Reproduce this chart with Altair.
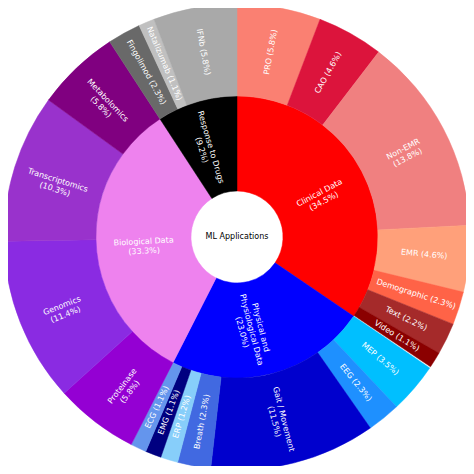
import altair as alt
import pandas as pd

# ---- data ----
inner_names = ["Clinical Data", "Physical and\nPhysiological Data", "Biological Data", "Response to Drugs"]
inner_values = [34.5, 23.0, 33.3, 9.2]
inner_colors = ["#FF0000", "#0000FF", "#EE82EE", "#000000"]

outer_groups = [0, 0, 0, 0, 0, 0, 0,
                1, 1, 1, 1, 1, 1, 1,
                2, 2, 2, 2,
                3, 3, 3]
outer_names = ["PRO", "CAO", "Non-EMR", "EMR", "Demographic", "Text", "Video",
               "MEP", "EEG", "Gait / Movement", "Breath", "ERP", "EMG", "ECG",
               "Proteinase", "Genomics", "Transcriptomics", "Metabolomics",
               "Fingolimod", "Natalizumab", "IFNb"]
outer_values = [5.8, 4.6, 13.8, 4.6, 2.3, 2.2, 1.1,
                3.5, 2.3, 11.5, 2.3, 1.2, 1.1, 1.1,
                5.8, 11.4, 10.3, 5.8,
                2.3, 1.1, 5.8]
outer_wrap = [False, False, True, False, False, False, False,
              False, False, True, False, False, False, False,
              True, True, True, True,
              False, False, False]
outer_colors = ["#FA8072", "#DC143C", "#F08080", "#FFA07A", "#FF6347", "#A52A2A", "#8B0000",
                "#00BFFF", "#1E90FF", "#0000CD", "#4169E1", "#87CEFA", "#000080", "#6495ED",
                "#9400D3", "#8A2BE2", "#9932CC", "#800080",
                "#696969", "#C0C0C0", "#A9A9A9"]
center_text = "ML Applications"


def rot(mid_pct):
    t = mid_pct * 3.6
    a = t - 90 if t <= 180 else t - 270
    return a % 360


# inner table
rows = []
acc = 0.0
group_start = []
for n, v, c in zip(inner_names, inner_values, inner_colors):
    group_start.append(acc)
    mid = acc + v / 2
    rows.append(dict(start=acc, end=acc + v, mid=mid, color=c,
                     label=f"{n}\n({v:.1f}%)", rot=rot(mid)))
    acc += v
inner = pd.DataFrame(rows)

# outer table
rows = []
cursor = {}
for g, n, v, w, c in zip(outer_groups, outer_names, outer_values, outer_wrap, outer_colors):
    s = cursor.get(g, group_start[g])
    mid = s + v / 2
    sep = "\n" if w else " "
    rows.append(dict(start=s, end=s + v, mid=mid, color=c,
                     label=f"{n}{sep}({v:.1f}%)", rot=rot(mid)))
    cursor[g] = s + v
outer = pd.DataFrame(rows)

theta_scale = alt.Scale(domain=[0, 100], range=[0, 6.283185307179586])

R0, R1, R2 = 46, 141, 233


def arcs(df, r_in, r_out):
    return alt.Chart(df).mark_arc(innerRadius=r_in, outerRadius=r_out, strokeWidth=0.5).encode(
        theta=alt.Theta("start:Q", scale=theta_scale),
        theta2="end:Q",
        color=alt.Color("color:N", scale=None),
        stroke=alt.Stroke("color:N", scale=None),
    )


def labels(df, r):
    return alt.Chart(df).mark_text(
        radius=r, font="DejaVu Sans", fontSize=8, color="white",
        align="center", baseline="middle", lineBreak="\n", lineHeight=9.6,
    ).encode(
        theta=alt.Theta("mid:Q", scale=theta_scale, stack=False),
        text="label:N",
        angle=alt.Angle("rot:Q", scale=None),
    )


center = alt.Chart(pd.DataFrame({"t": [center_text]})).mark_text(
    font="DejaVu Sans", fontSize=8, color="black", align="center", baseline="middle"
).encode(x=alt.value(229), y=alt.value(229), text="t:N")

chart = alt.layer(
    arcs(inner, R0, R1),
    arcs(outer, R1, R2),
    labels(inner, (R0 + R1) / 2),
    labels(outer, (R1 + 235) / 2),
    center,
).properties(
    width=458, height=458,
    autosize=alt.AutoSizeParams(type="none"),
    padding=0,
).configure_view(stroke=None)

chart.save("out.html", embed_options={"renderer": "svg", "actions": False})
